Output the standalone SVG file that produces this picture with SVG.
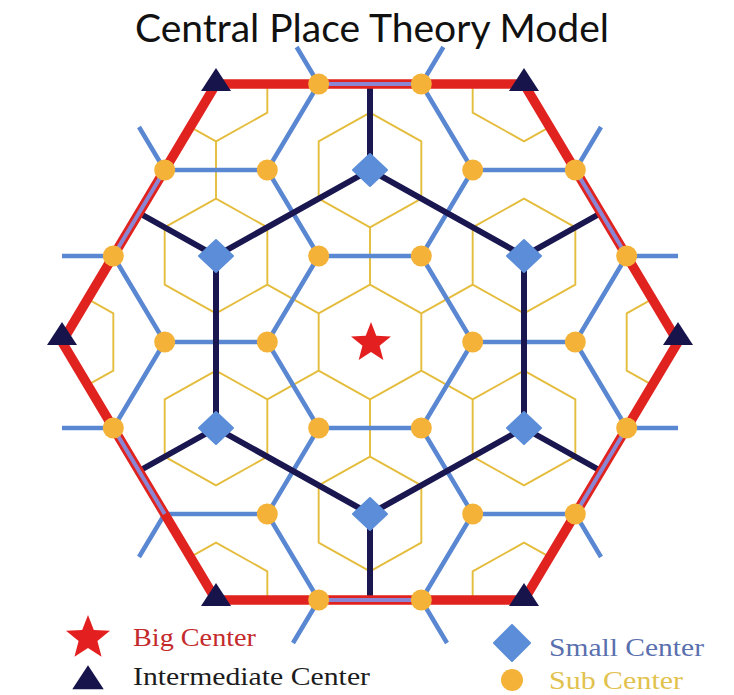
<svg xmlns="http://www.w3.org/2000/svg" width="734" height="695" viewBox="0 0 734 695">
<style>
.yl{fill:none;stroke:#e4bd3e;stroke-width:1.9}
.bl{fill:none;stroke:#5a87d1;stroke-width:4.5}
.nv{fill:none;stroke:#1a1750;stroke-width:6;stroke-linejoin:miter}
.rd{fill:none;stroke:#e1231f;stroke-width:9.5;stroke-linejoin:miter}
.ov{fill:none;stroke:#8a86d4;stroke-width:4}
.sub{fill:#f4b338}
.sm{fill:#5b8dd8;stroke:#5b8dd8;stroke-width:2;stroke-linejoin:round}
.tri{fill:#17144c}
.big{fill:#e3201f}
.t{font-family:"Liberation Serif","Times New Roman",serif;font-size:26px}
</style>
<defs>
<clipPath id="hexclip"><polygon points="216,84 524,84 678,342 524,600 216,600 62,342"/></clipPath>
<polygon id="star" points="0,-21 5.29,-7.28 19.97,-6.49 8.56,2.78 12.34,16.99 0,9 -12.34,16.99 -8.56,2.78 -19.97,-6.49 -5.29,-7.28"/>
<polygon id="tri" points="0,-16 15,7 -15,7"/>
<polygon id="dia" points="0,-16 17,0 0,16 -17,0"/>
</defs>
<rect width="734" height="695" fill="#ffffff"/>
<text x="372" y="42" text-anchor="middle" font-family="Lato, 'Open Sans', sans-serif" font-size="38" fill="#111111" textLength="474" lengthAdjust="spacingAndGlyphs">Central Place Theory Model</text>

<g id="market-areas" class="yl" clip-path="url(#hexclip)">
<path d="M370,284.67 L421.33,313.33 L421.33,370.67 L370,399.33 L318.67,370.67 L318.67,313.33Z
M370,112.67 L421.33,141.33 L421.33,198.67 L370,227.33 L318.67,198.67 L318.67,141.33Z
M216,198.67 L267.33,227.33 L267.33,284.67 L216,313.33 L164.67,284.67 L164.67,227.33Z
M524,198.67 L575.33,227.33 L575.33,284.67 L524,313.33 L472.67,284.67 L472.67,227.33Z
M216,370.67 L267.33,399.33 L267.33,456.67 L216,485.33 L164.67,456.67 L164.67,399.33Z
M524,370.67 L575.33,399.33 L575.33,456.67 L524,485.33 L472.67,456.67 L472.67,399.33Z
M370,456.67 L421.33,485.33 L421.33,542.67 L370,571.33 L318.67,542.67 L318.67,485.33Z
M216,26.67 L267.33,55.33 L267.33,112.67 L216,141.33 L164.67,112.67 L164.67,55.33Z
M524,26.67 L575.33,55.33 L575.33,112.67 L524,141.33 L472.67,112.67 L472.67,55.33Z
M678,284.67 L729.33,313.33 L729.33,370.67 L678,399.33 L626.67,370.67 L626.67,313.33Z
M62,284.67 L113.33,313.33 L113.33,370.67 L62,399.33 L10.67,370.67 L10.67,313.33Z
M524,542.67 L575.33,571.33 L575.33,628.67 L524,657.33 L472.67,628.67 L472.67,571.33Z
M216,542.67 L267.33,571.33 L267.33,628.67 L216,657.33 L164.67,628.67 L164.67,571.33Z
M370,284.67 V227.33 M318.67,313.33 L267.33,284.67 M421.33,313.33 L472.67,284.67
M318.67,370.67 L267.33,399.33 M421.33,370.67 L472.67,399.33 M370,399.33 V456.67
M216,198.67 V141.33"/>
</g>

<g id="connectors">
<path class="bl" d="M164.67,170 H267.33 M472.67,170 H575.33 M318.67,256 H421.33 M164.67,342 H267.33 M472.67,342 H575.33 M318.67,428 H421.33 M164.67,514 H267.33 M472.67,514 H575.33
M318.67,84 L267.33,170 M421.33,84 L472.67,170 M267.33,170 L318.67,256 M472.67,170 L421.33,256
M113.33,256 L164.67,342 M318.67,256 L267.33,342 M421.33,256 L472.67,342 M626.67,256 L575.33,342
M164.67,342 L113.33,428 M267.33,342 L318.67,428 M472.67,342 L421.33,428 M575.33,342 L626.67,428
M318.67,428 L267.33,514 M421.33,428 L472.67,514 M267.33,514 L318.67,600 M472.67,514 L421.33,600
M318.67,84 L296.6,47 M421.33,84 L443.4,47 M164.67,170 L139,127 M575.33,170 L601,127
M113.33,256 H62 M626.67,256 H678 M113.33,428 H62 M626.67,428 H678
M164.67,514 L139,557 M575.33,514 L601,557 M318.67,600 L293,643 M421.33,600 L447,643"/>
<path class="nv" d="M370,170 L216,256 L216,428 L370,514 L524,428 L524,256 Z M370,170 V84 M216,256 L139,213 M524,256 L601,213 M216,428 L139,471 M524,428 L601,471 M370,514 V600"/>
<polygon class="rd" points="216,84 524,84 678,342 524,600 216,600 62,342"/>
<path class="ov" d="M318.67,84 H421.33 M164.67,170 L113.33,256 M113.33,428 L164.67,514 M318.67,600 H421.33 M575.33,170 L626.67,256 M626.67,428 L575.33,514"/>
</g>

<g id="sub-1" class="sub"><circle cx="318.67" cy="84" r="10.5"/></g>
<g id="sub-2" class="sub"><circle cx="421.33" cy="84" r="10.5"/></g>
<g id="sub-3" class="sub"><circle cx="164.67" cy="170" r="10.5"/></g>
<g id="sub-4" class="sub"><circle cx="267.33" cy="170" r="10.5"/></g>
<g id="sub-5" class="sub"><circle cx="472.67" cy="170" r="10.5"/></g>
<g id="sub-6" class="sub"><circle cx="575.33" cy="170" r="10.5"/></g>
<g id="sub-7" class="sub"><circle cx="113.33" cy="256" r="10.5"/></g>
<g id="sub-8" class="sub"><circle cx="318.67" cy="256" r="10.5"/></g>
<g id="sub-9" class="sub"><circle cx="421.33" cy="256" r="10.5"/></g>
<g id="sub-10" class="sub"><circle cx="626.67" cy="256" r="10.5"/></g>
<g id="sub-11" class="sub"><circle cx="164.67" cy="342" r="10.5"/></g>
<g id="sub-12" class="sub"><circle cx="267.33" cy="342" r="10.5"/></g>
<g id="sub-13" class="sub"><circle cx="472.67" cy="342" r="10.5"/></g>
<g id="sub-14" class="sub"><circle cx="575.33" cy="342" r="10.5"/></g>
<g id="sub-15" class="sub"><circle cx="113.33" cy="428" r="10.5"/></g>
<g id="sub-16" class="sub"><circle cx="318.67" cy="428" r="10.5"/></g>
<g id="sub-17" class="sub"><circle cx="421.33" cy="428" r="10.5"/></g>
<g id="sub-18" class="sub"><circle cx="626.67" cy="428" r="10.5"/></g>
<g id="sub-19" class="sub"><circle cx="267.33" cy="514" r="10.5"/></g>
<g id="sub-20" class="sub"><circle cx="472.67" cy="514" r="10.5"/></g>
<g id="sub-21" class="sub"><circle cx="575.33" cy="514" r="10.5"/></g>
<g id="sub-22" class="sub"><circle cx="318.67" cy="600" r="10.5"/></g>
<g id="sub-23" class="sub"><circle cx="421.33" cy="600" r="10.5"/></g>

<g id="small-1" class="sm"><use href="#dia" x="370" y="170"/></g>
<g id="small-2" class="sm"><use href="#dia" x="216" y="256"/></g>
<g id="small-3" class="sm"><use href="#dia" x="524" y="256"/></g>
<g id="small-4" class="sm"><use href="#dia" x="216" y="428"/></g>
<g id="small-5" class="sm"><use href="#dia" x="524" y="428"/></g>
<g id="small-6" class="sm"><use href="#dia" x="370" y="514"/></g>

<g id="inter-1" class="tri"><use href="#tri" x="216" y="84"/></g>
<g id="inter-2" class="tri"><use href="#tri" x="524" y="84"/></g>
<g id="inter-3" class="tri"><use href="#tri" x="678" y="338"/></g>
<g id="inter-4" class="tri"><use href="#tri" x="524" y="599"/></g>
<g id="inter-5" class="tri"><use href="#tri" x="216" y="599"/></g>
<g id="inter-6" class="tri"><use href="#tri" x="62" y="338"/></g>

<g id="big-center" class="big"><use href="#star" x="371" y="343"/></g>

<g id="legend">
<g id="legend-big"><use href="#star" class="big" transform="translate(88,638) scale(1.1)"/><text class="t" x="133" y="646" fill="#c42a2c" textLength="123" lengthAdjust="spacingAndGlyphs">Big Center</text></g>
<g id="legend-inter"><use href="#tri" class="tri" transform="translate(88,682) scale(1.05)"/><text class="t" x="133" y="685" fill="#1c1c1c" textLength="237" lengthAdjust="spacingAndGlyphs">Intermediate Center</text></g>
<g id="legend-small"><polygon class="sm" points="512,625 530,643 512,661 494,643"/><text class="t" x="549" y="656" fill="#5a70ae" textLength="155" lengthAdjust="spacingAndGlyphs">Small Center</text></g>
<g id="legend-sub"><circle class="sub" cx="512" cy="680" r="11"/><text class="t" x="549" y="689" fill="#e2c24e" textLength="134" lengthAdjust="spacingAndGlyphs">Sub Center</text></g>
</g>
</svg>
